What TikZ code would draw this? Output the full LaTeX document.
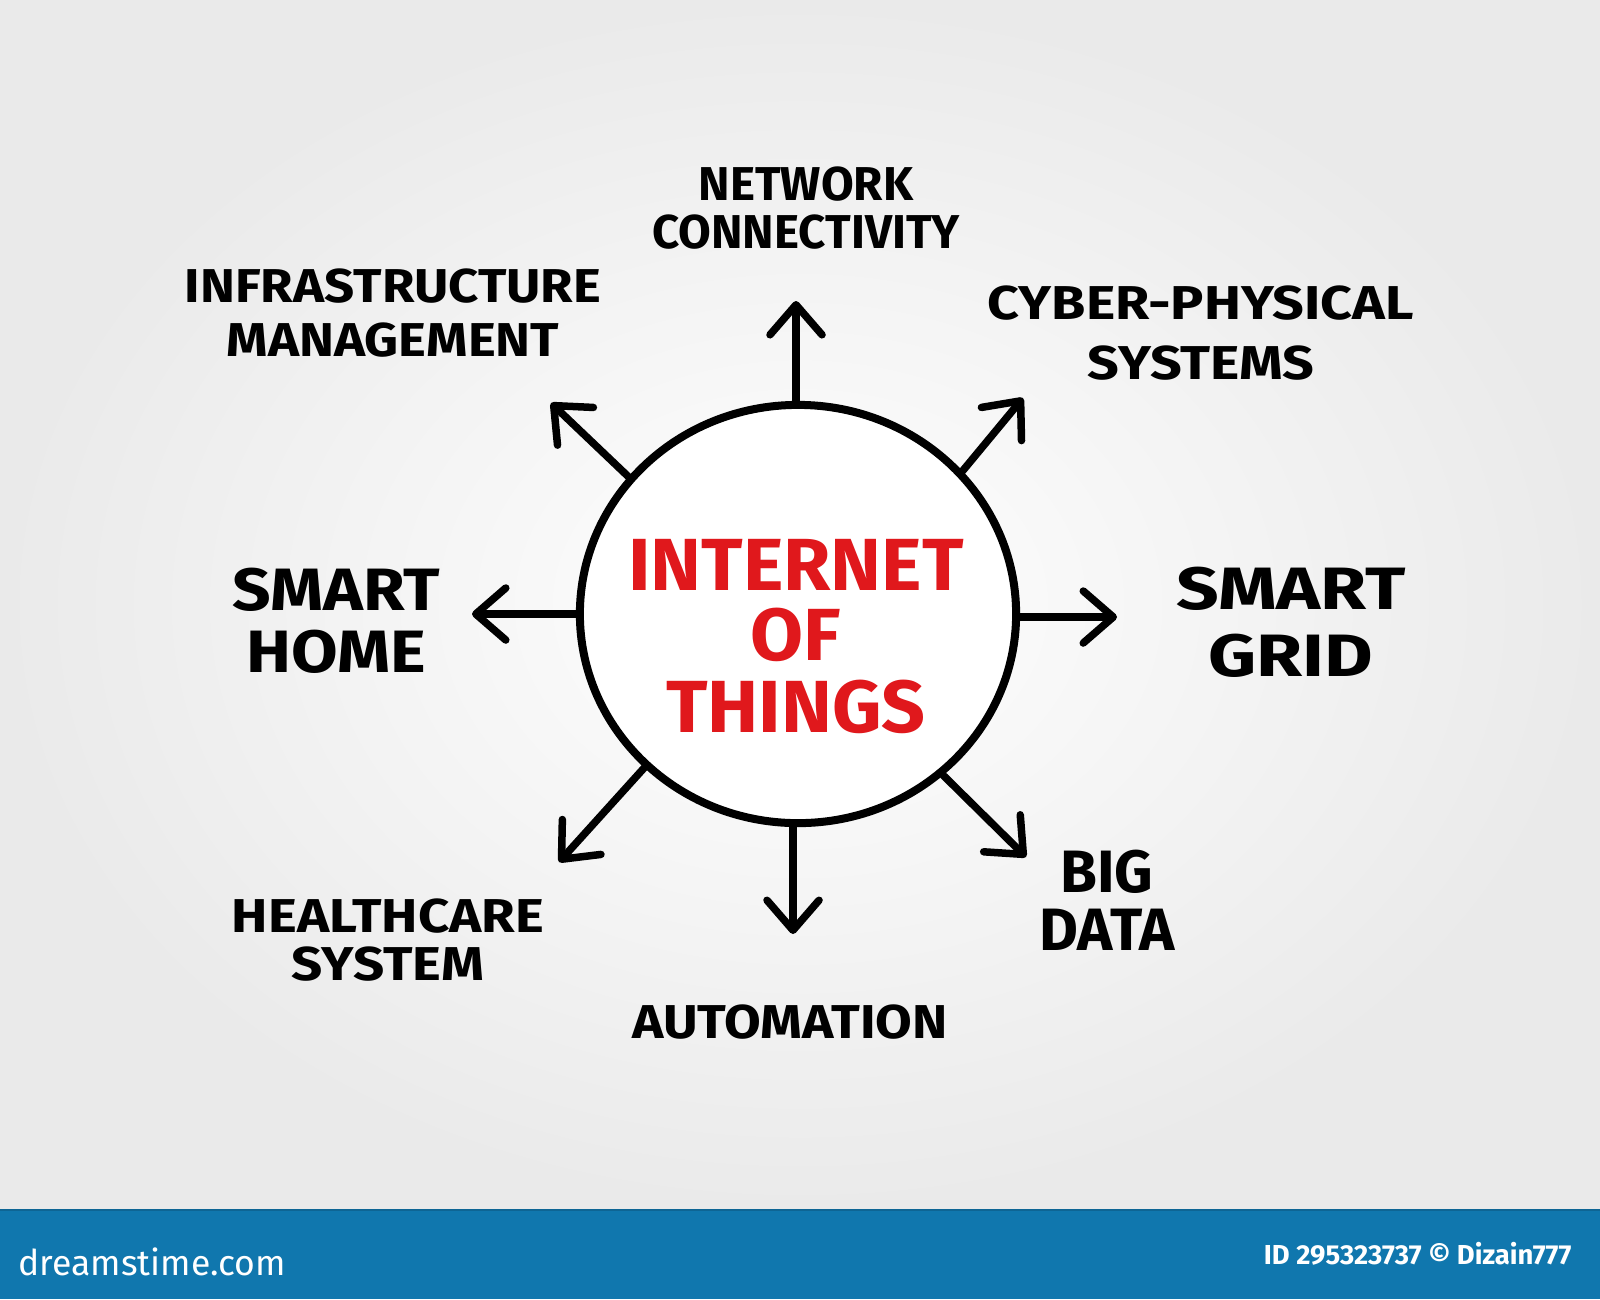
\documentclass[tikz,border=0pt]{standalone}
\usepackage{fontspec}
\setmainfont{Fira Sans}
\usetikzlibrary{arrows.meta,shapes.geometric}
\definecolor{iotred}{HTML}{E0181C}
\definecolor{barblue}{HTML}{1077AE}
\definecolor{bgedge}{HTML}{EAEAEA}
\newcommand{\lblfont}[3]{\bfseries\fontsize{#1}{#2}\selectfont\addfontfeature{FakeStretch=#3}}
\tikzset{
  lbl/.style={align=center, text=black, inner sep=0pt},
  ttl/.style={font=\bfseries\fontsize{21}{21}\selectfont\addfontfeature{FakeStretch=1.04}, text=iotred, inner sep=0pt, text height=14.5pt, text depth=0pt},
  arr/.style={line width=0.075cm, line cap=round, -{Straight Barb[length=0.3cm,width=0.52cm,line cap=round,line join=round]}},
}
\begin{document}
\begin{tikzpicture}[x=0.01cm,y=-0.01cm]
\useasboundingbox (0,0) rectangle (1600,1299);
\shade[inner color=white, outer color=bgedge] (0,0) rectangle (1600,1209);
\fill[barblue] (0,1209) rectangle (1600,1299);
\draw[barblue!85!black, line width=0.02cm] (0,1210) -- (1600,1210);

% hub
\node[ellipse, draw, line width=0.08cm, minimum width=4.36cm, minimum height=4.18cm, fill=white] (hub) at (798,614) {};
\node[ttl] (title1) at (796,565) {INTERNET};
\node[ttl] (title2) at (796,635) {OF};
\node[ttl] (title3) at (796,707) {THINGS};

% arrow targets
\coordinate (tN) at (796,301);
\coordinate (tNE) at (1023,398);
\coordinate (tE) at (1117,617);
\coordinate (tSE) at (1026,857);
\coordinate (tS) at (793,934);
\coordinate (tSW) at (559,862);
\coordinate (tW) at (472,614);
\coordinate (tNW) at (551,403);

\draw[arr] (tN |- hub.north) -- (tN);
\draw[arr] (hub.41) -- (tNE);
\draw[arr] (hub.east |- tE) -- (tE);
\draw[arr] (hub.-48) -- (tSE);
\draw[arr] (tS |- hub.south) -- (tS);
\draw[arr] (hub.225) -- (tSW);
\draw[arr] (hub.west |- tW) -- (tW);
\draw[arr] (hub.141) -- (tNW);

% labels
\node[lbl, font=\lblfont{13.5}{13.6}{1.0}] (net) at (806,208) {NETWORK\\CONNECTIVITY};
\node[lbl, font=\lblfont{13.5}{15.3}{1.11}] (infra) at (393,313) {INFRASTRUCTURE\\MANAGEMENT};
\node[lbl, font=\lblfont{13.5}{16.8}{1.17}] (cps) at (1201,333) {CYBER-PHYSICAL\\SYSTEMS};
\node[lbl, font=\lblfont{17}{17.5}{1.13}] (home) at (336,621) {SMART\\HOME};
\node[lbl, font=\lblfont{17}{19}{1.25}] (grid) at (1291,622) {SMART\\GRID};
\node[lbl, font=\lblfont{17}{16.5}{1.0}] (big) at (1107,900) {BIG\\DATA};
\node[lbl, font=\lblfont{13.5}{13.8}{1.15}] (health) at (388,940) {HEALTHCARE\\SYSTEM};
\node[lbl, font=\lblfont{13.5}{13.8}{1.12}] (auto) at (790,1022) {AUTOMATION};

% footer
\node[font=\fontsize{10.1}{11}\selectfont, text=white, anchor=west, inner sep=0pt] (brand) at (18,1262) {dreamstime.com};
\node[font=\bfseries\fontsize{7.8}{8}\selectfont, text=white, anchor=east, inner sep=0pt] (credit) at (1572,1254) {ID 295323737 © Dizain777};
\end{tikzpicture}
\end{document}
